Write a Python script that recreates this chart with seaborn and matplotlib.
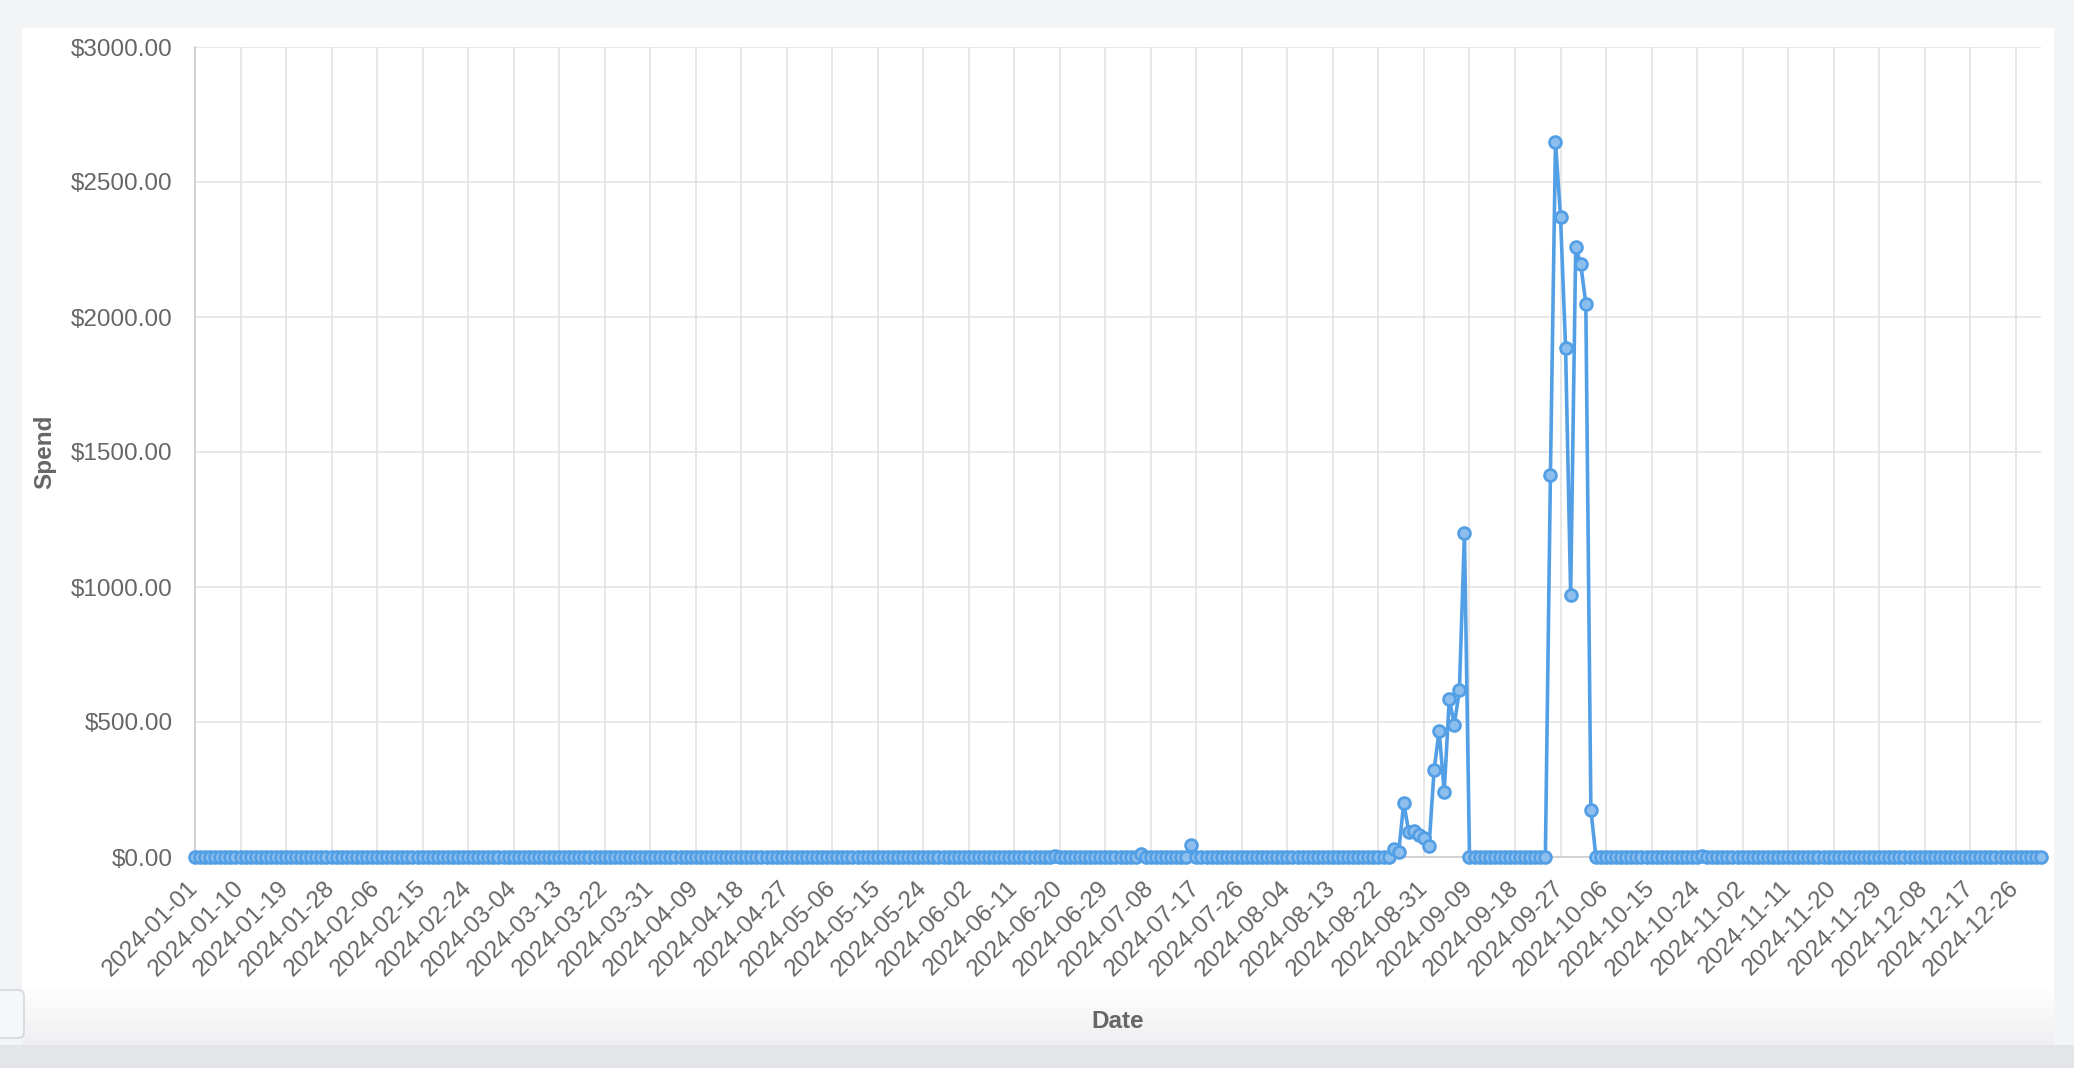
import numpy as np
import pandas as pd
import matplotlib
matplotlib.use("Agg")
import matplotlib.pyplot as plt
from matplotlib.patches import Rectangle, FancyBboxPatch
import seaborn as sns

# ---- data ----
dates = pd.date_range("2024-01-01", "2024-12-31", freq="D")
spike_dates = ["2024-06-19", "2024-07-06", "2024-07-16",
               "2024-08-25", "2024-08-26", "2024-08-27", "2024-08-28", "2024-08-29",
               "2024-08-30", "2024-08-31", "2024-09-01", "2024-09-02", "2024-09-03",
               "2024-09-04", "2024-09-05", "2024-09-06", "2024-09-07", "2024-09-08",
               "2024-09-25", "2024-09-26", "2024-09-27", "2024-09-28", "2024-09-29",
               "2024-09-30", "2024-10-01", "2024-10-02", "2024-10-03",
               "2024-10-25"]
spike_values = [3, 12, 45,
                30, 18, 200, 92, 95,
                82, 70, 40, 322, 468,
                241, 585, 490, 618, 1200,
                1415, 2650, 2370, 1885, 970,
                2260, 2195, 2050, 175,
                5]
y_ticks = [0, 500, 1000, 1500, 2000, 2500, 3000]
tick_every = 9

spend = pd.Series(0.0, index=dates)
spend[pd.to_datetime(spike_dates)] = spike_values
df = pd.DataFrame({"idx": np.arange(len(dates)), "Date": dates.strftime("%Y-%m-%d"), "Spend": spend.values})

# ---- style ----
sns.set_theme(style="white")
plt.rcParams["font.family"] = ["Liberation Sans", "DejaVu Sans"]
TXT = "#666666"
GRID = "#e1e1e1"
BLUE = "#539fe5"

W, H = 2074, 1068
fig = plt.figure(figsize=(W / 100, H / 100), dpi=100)
fig.patch.set_facecolor("#f3f4f6")

# background card
bg = fig.add_axes([0, 0, 1, 1], zorder=-5)
bg.set_xlim(0, W)
bg.set_ylim(H, 0)
bg.axis("off")
bg.add_patch(Rectangle((22, 28), 2054 - 22, 1045 - 28, facecolor="white", edgecolor="none"))
grad = np.linspace(0, 1, 60)[:, None]
cols = np.ones((60, 1, 3))
c_top = np.array([1.0, 1.0, 1.0])
c_bot = np.array([0.935, 0.937, 0.945])
cols[:, 0, :] = c_top * (1 - grad) + c_bot * grad
bg.imshow(cols, extent=(22, 2054, 1045, 985), aspect="auto", zorder=1)
bg.add_patch(Rectangle((0, 1045), W, H - 1045, facecolor="#e4e5e8", edgecolor="none", zorder=2))
bg.add_patch(FancyBboxPatch((-10, 990), 34, 48, boxstyle="round,pad=0,rounding_size=6",
                            facecolor="#f6f7f8", edgecolor="#d5d7da", linewidth=1.2, zorder=3))

# main axes
x0, x1 = 195, 2041
y0, y1 = 47, 857
ax = fig.add_axes([x0 / W, 1 - y1 / H, (x1 - x0) / W, (y1 - y0) / H])
ax.set_facecolor("none")

sns.lineplot(data=df, x="idx", y="Spend", ax=ax, color=BLUE, linewidth=2.6,
             marker="o", markersize=8.5, markerfacecolor="#8dbfee",
             markeredgecolor=BLUE, markeredgewidth=2.0, clip_on=False, zorder=5)

ax.set_xlim(0, len(dates) - 1)
ax.set_ylim(0, 3000)
xt = np.arange(0, len(dates), tick_every)
ax.set_xticks(xt)
ax.set_xticklabels(df["Date"].iloc[xt], rotation=45, ha="right", va="center",
                   rotation_mode="anchor", fontsize=17.5, color=TXT)
ax.set_yticks(y_ticks)
ax.set_yticklabels([f"${v:.2f}" for v in y_ticks], fontsize=17.5, color=TXT)

ax.grid(True, color=GRID, linewidth=1.1)
ax.set_axisbelow(True)
ax.tick_params(axis="both", length=11, width=1.1, color=GRID, pad=5)
ax.tick_params(axis="x", pad=9)
for s in ["top", "right"]:
    ax.spines[s].set_visible(False)
ax.spines["left"].set_color("#c9c9c9")
ax.spines["bottom"].set_color("#c9c9c9")
ax.spines["left"].set_linewidth(1.1)
ax.spines["bottom"].set_linewidth(1.1)

ax.set_xlabel("Date", fontsize=17.5, fontweight="bold", color=TXT, va="center")
ax.set_ylabel("Spend", fontsize=17.5, fontweight="bold", color=TXT, va="center")
ax.xaxis.set_label_coords(0.5, (y1 - 1022) / (y1 - y0))
ax.yaxis.set_label_coords((45 - x0) / (x1 - x0), 0.5)

fig.savefig("out.png", dpi=100, facecolor=fig.get_facecolor())
